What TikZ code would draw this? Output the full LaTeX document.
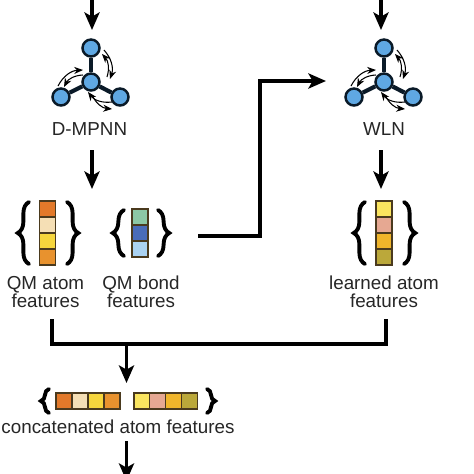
\documentclass[tikz,border=0pt]{standalone}
\usepackage{fontspec}
\setmainfont{Liberation Sans}
\usetikzlibrary{arrows.meta,decorations.pathreplacing}
\definecolor{atomblue}{HTML}{5FA8E3}
\definecolor{atomline}{HTML}{0A1A28}
\definecolor{cellline}{HTML}{4A3A1E}
\definecolor{qa}{HTML}{E2792A}
\definecolor{qb}{HTML}{F5DFB5}
\definecolor{qc}{HTML}{F6D63D}
\definecolor{qd}{HTML}{E8922E}
\definecolor{ba}{HTML}{8CC7A5}
\definecolor{bb}{HTML}{4A6CB8}
\definecolor{bc}{HTML}{ABD3F2}
\definecolor{la}{HTML}{FBE55F}
\definecolor{lb}{HTML}{E6A892}
\definecolor{lc}{HTML}{F0B52B}
\definecolor{ld}{HTML}{BBA83A}
\tikzset{
  flow/.style={line width=1.9pt,-{Stealth[length=10pt,width=8.6pt,inset=2.4pt]}},
  joinline/.style={line width=1.9pt,line join=miter},
  atom/.style={circle,draw=atomline,fill=atomblue,line width=1.4pt,minimum size=17*0.02cm,inner sep=0pt},
  bond/.style={line width=2.4pt,draw=atomline},
  pass/.style={line width=0.6pt,-{Stealth[length=5pt,width=4pt]}},
  cell/.style={draw=cellline,line width=0.6pt},
  curly/.style={line width=2.2pt,line cap=round,decorate,decoration={brace,amplitude=#1}},
  label/.style={font=\fontsize{10.7pt}{10.3pt}\selectfont,text=black!85,align=center,inner sep=0pt}
}
\begin{document}
\begin{tikzpicture}[x=0.02cm,y=-0.02cm]
\useasboundingbox (0,0) rectangle (474,474);
\clip (0,0) rectangle (474,474);
% message passing graphs
\foreach \gname/\gx in {dmpnn/0,wln/293}{
\begin{scope}[shift={(\gx,0)}]
\node[atom] (\gname-top) at (91,48) {};
\node[atom] (\gname-mid) at (91,82) {};
\node[atom] (\gname-left) at (61,97) {};
\node[atom] (\gname-right) at (120,97) {};
\draw[bond] (\gname-mid) -- (\gname-top);
\draw[bond] (\gname-mid) -- (\gname-left);
\draw[bond] (\gname-mid) -- (\gname-right);
\coordinate (\gname-p1) at (104,50);
\coordinate (\gname-p2) at (110,79);
\coordinate (\gname-p3) at (107,77);
\coordinate (\gname-p4) at (102,54);
\coordinate (\gname-p5) at (58,86);
\coordinate (\gname-p6) at (83,70);
\coordinate (\gname-p7) at (83,75);
\coordinate (\gname-p8) at (64,87);
\coordinate (\gname-p9) at (92,95);
\coordinate (\gname-p10) at (112,109);
\coordinate (\gname-p11) at (112,102);
\coordinate (\gname-p12) at (88,92);
\draw[pass] (\gname-p1) to[bend left=30] (\gname-p2);
\draw[pass] (\gname-p3) to[bend right=30] (\gname-p4);
\draw[pass] (\gname-p5) to[bend left=30] (\gname-p6);
\draw[pass] (\gname-p7) to[bend right=30] (\gname-p8);
\draw[pass] (\gname-p9) to[bend right=30] (\gname-p10);
\draw[pass] (\gname-p11) to[bend left=30] (\gname-p12);
\end{scope}
}
\node[label] (dmpnn) at (89.5,129) {D-MPNN};
\node[label] (wln) at (384,129) {WLN};
% feature stacks
\foreach \col [count=\i from 0] in {qa,qb,qc,qd}{
\fill[\col] (39.5,201+16*\i) rectangle (55.5,217+16*\i);
\draw[cell] (39.5,201+16*\i) rectangle (55.5,217+16*\i);
\fill[\col] (56+16*\i,393) rectangle (72+16*\i,409);
\draw[cell] (56+16*\i,393) rectangle (72+16*\i,409);
}
\foreach \col [count=\i from 0] in {ba,bb,bc}{
\fill[\col] (132,209+16*\i) rectangle (148,225+16*\i);
\draw[cell] (132,209+16*\i) rectangle (148,225+16*\i);
}
\foreach \col [count=\i from 0] in {la,lb,lc,ld}{
\fill[\col] (376,201+16*\i) rectangle (392,217+16*\i);
\draw[cell] (376,201+16*\i) rectangle (392,217+16*\i);
\fill[\col] (134+15.9*\i,393) rectangle (149.9+15.9*\i,409);
\draw[cell] (134+15.9*\i,393) rectangle (149.9+15.9*\i,409);
}
% braces
\draw[curly=6.4pt] (29,264) -- (29,202);
\draw[curly=6.4pt] (67,202) -- (67,264);
\draw[curly=6.4pt] (124,256) -- (124,210);
\draw[curly=6.4pt] (158,210) -- (158,256);
\draw[curly=6.4pt] (365,264) -- (365,202);
\draw[curly=6.4pt] (404,202) -- (404,264);
\draw[curly=4.6pt] (49,413) -- (49,389);
\draw[curly=4.6pt] (207,389) -- (207,413);
\node[label] (qmatom) at (45.5,292) {QM atom\\features};
\node[label] (qmbond) at (141,292) {QM bond\\features};
\node[label] (learned) at (384,292) {learned atom\\features};
\node[label] (concat) at (118,427) {concatenated atom features};
% connectors
\coordinate (topa) at (92,-2);
\coordinate (topb) at (92,30);
\draw[flow] (topa) -- (topb);
\coordinate (topc) at (381,-2);
\coordinate (topd) at (381,30);
\draw[flow] (topc) -- (topd);
\coordinate (dmpnnout) at (92,150);
\coordinate (qmatomin) at (92,189);
\draw[flow] (dmpnnout) -- (qmatomin);
\coordinate (wlnout) at (381,150);
\coordinate (learnedin) at (381,189);
\draw[flow] (wlnout) -- (learnedin);
\coordinate (bondout) at (198,236);
\coordinate (wlnin) at (326,81);
\draw[flow] (bondout) -- (260,236) -- (260,81) -- (wlnin);
\coordinate (atomout) at (52,319);
\coordinate (learnedout) at (386,319);
\draw[joinline] (atomout) |- (learnedout |- 0,344) -- (learnedout);
\coordinate (joinpt) at (126.5,344);
\coordinate (concatin) at (126.5,383);
\draw[flow] (joinpt) -- (concatin);
\coordinate (concatout) at (126.5,441);
\coordinate (nextin) at (126.5,481);
\draw[flow] (concatout) -- (nextin);
\end{tikzpicture}
\end{document}
